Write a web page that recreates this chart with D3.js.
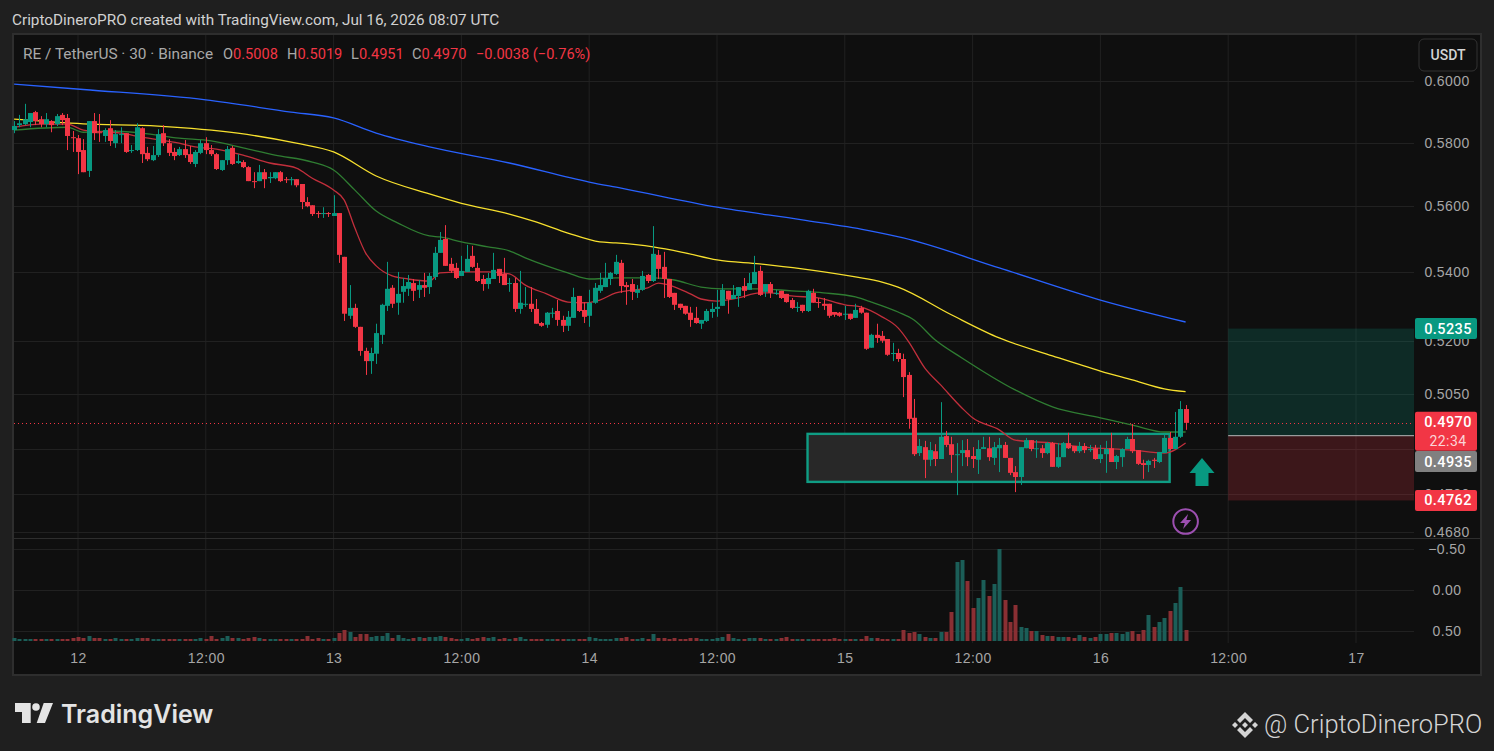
<!DOCTYPE html>
<html>
<head>
<meta charset="utf-8">
<style>
  html, body { margin: 0; padding: 0; background: #1f1f1f; }
  svg { display: block; font-family: Roboto, "Open Sans", sans-serif; }
  .axis path, .axis line { display: none; }
  .axis text { fill: #a6a6a6; font-size: 14px; letter-spacing: 0.4px; }
</style>
</head>
<body>
<div id="chart"></div>
<script src="https://cdn.jsdelivr.net/npm/d3@7"></script>
<script>
// candles, one row per 10 bars, 30 minute bars
const opens = [
  .5840,.5856,.5859,.5866,.5898,.5875,.5859,.5869,.5859,.5889,
  .5879,.5817,.5814,.5776,.5710,.5869,.5833,.5821,.5846,.5798,
  .5824,.5830,.5773,.5776,.5846,.5767,.5744,.5760,.5830,.5798,
  .5770,.5760,.5779,.5763,.5732,.5767,.5798,.5776,.5763,.5713,
  .5744,.5783,.5735,.5738,.5722,.5678,.5678,.5706,.5687,.5687,
  .5706,.5684,.5681,.5684,.5669,.5613,.5603,.5579,.5576,.5579,
  .5570,.5579,.5446,.5272,.5295,.5240,.5171,.5142,.5163,.5217,
  .5301,.5354,.5310,.5342,.5351,.5368,.5348,.5362,.5356,.5386,
  .5458,.5500,.5425,.5413,.5389,.5401,.5449,.5413,.5380,.5365,
  .5380,.5410,.5395,.5365,.5368,.5292,.5304,.5307,.5292,.5251,
  .5246,.5278,.5286,.5260,.5243,.5266,.5330,.5289,.5272,.5310,
  .5345,.5356,.5380,.5395,.5428,.5362,.5365,.5339,.5348,.5392,
  .5374,.5452,.5416,.5380,.5339,.5307,.5301,.5281,.5266,.5249,
  .5257,.5283,.5292,.5301,.5345,.5321,.5330,.5359,.5348,.5365,
  .5404,.5342,.5365,.5336,.5345,.5336,.5318,.5295,.5304,.5286,
  .5339,.5312,.5307,.5307,.5283,.5281,.5275,.5278,.5266,.5295,
  .5281,.5180,.5217,.5214,.5205,.5163,.5165,.5148,.5103,.4984,
  .4888,.4904,.4870,.4893,.4872,.4934,.4912,.4883,.4888,.4896,
  .4880,.4870,.4899,.4901,.4875,.4901,.4910,.4875,.4837,.4824,
  .4901,.4923,.4899,.4901,.4888,.4915,.4851,.4877,.4915,.4907,
  .4893,.4907,.4896,.4901,.4872,.4885,.4901,.4864,.4877,.4899,
  .4926,.4896,.4861,.4856,.4870,.4864,.4888,.4929,.4899,.4932,
  .5008
];
const highs = [
  .5869,.5889,.5925,.5895,.5902,.5885,.5895,.5872,.5892,.5895,
  .5892,.5837,.5824,.5811,.5869,.5895,.5892,.5846,.5872,.5840,
  .5849,.5830,.5792,.5862,.5849,.5786,.5789,.5843,.5856,.5811,
  .5783,.5786,.5808,.5789,.5776,.5808,.5817,.5792,.5767,.5744,
  .5789,.5789,.5763,.5744,.5725,.5706,.5729,.5716,.5706,.5706,
  .5710,.5691,.5691,.5684,.5669,.5628,.5603,.5585,.5597,.5582,
  .5634,.5579,.5446,.5362,.5307,.5240,.5180,.5180,.5249,.5307,
  .5431,.5362,.5401,.5383,.5392,.5380,.5377,.5398,.5398,.5476,
  .5521,.5542,.5443,.5428,.5449,.5482,.5479,.5428,.5392,.5398,
  .5458,.5410,.5443,.5383,.5383,.5404,.5356,.5356,.5321,.5254,
  .5283,.5295,.5318,.5272,.5286,.5354,.5330,.5312,.5348,.5368,
  .5398,.5428,.5401,.5452,.5437,.5371,.5380,.5362,.5404,.5395,
  .5539,.5467,.5461,.5380,.5339,.5307,.5301,.5298,.5298,.5260,
  .5292,.5310,.5348,.5365,.5345,.5362,.5356,.5383,.5398,.5449,
  .5419,.5365,.5371,.5348,.5345,.5336,.5324,.5312,.5304,.5348,
  .5351,.5324,.5324,.5307,.5283,.5283,.5301,.5278,.5307,.5301,
  .5281,.5220,.5249,.5228,.5205,.5194,.5177,.5163,.5111,.5036,
  .4926,.4921,.4918,.4912,.5027,.4948,.4932,.4915,.4923,.4926,
  .4904,.4923,.4932,.4932,.4918,.4929,.4918,.4875,.4853,.4904,
  .4929,.4923,.4923,.4910,.4918,.4918,.4915,.4918,.4943,.4907,
  .4918,.4915,.4910,.4910,.4910,.4921,.4943,.4883,.4901,.4932,
  .4967,.4896,.4870,.4870,.4875,.4891,.4940,.4945,.5000,.5030,
  .5019
];
const lows = [
  .5830,.5849,.5856,.5849,.5856,.5849,.5849,.5833,.5853,.5856,
  .5776,.5770,.5700,.5706,.5691,.5808,.5802,.5802,.5789,.5783,
  .5798,.5767,.5767,.5773,.5735,.5741,.5741,.5754,.5789,.5757,
  .5744,.5757,.5751,.5732,.5722,.5763,.5763,.5757,.5713,.5710,
  .5729,.5729,.5732,.5719,.5678,.5656,.5678,.5656,.5672,.5684,
  .5675,.5672,.5665,.5659,.5591,.5597,.5570,.5564,.5564,.5567,
  .5570,.5428,.5257,.5263,.5237,.5157,.5103,.5106,.5134,.5191,
  .5286,.5295,.5275,.5310,.5330,.5315,.5324,.5327,.5336,.5377,
  .5458,.5419,.5398,.5380,.5389,.5401,.5413,.5371,.5345,.5351,
  .5380,.5368,.5362,.5342,.5283,.5278,.5298,.5283,.5249,.5240,
  .5237,.5266,.5243,.5225,.5228,.5266,.5283,.5251,.5240,.5307,
  .5339,.5356,.5362,.5392,.5339,.5304,.5318,.5324,.5345,.5368,
  .5371,.5380,.5324,.5324,.5289,.5289,.5275,.5240,.5249,.5234,
  .5254,.5266,.5269,.5301,.5278,.5321,.5298,.5324,.5348,.5365,
  .5330,.5327,.5324,.5333,.5321,.5310,.5292,.5283,.5281,.5283,
  .5310,.5295,.5289,.5266,.5269,.5269,.5260,.5260,.5266,.5278,
  .5174,.5180,.5194,.5194,.5157,.5142,.5140,.5041,.4954,.4880,
  .4880,.4821,.4853,.4853,.4872,.4904,.4835,.4776,.4853,.4853,
  .4848,.4832,.4899,.4867,.4856,.4837,.4875,.4829,.4784,.4803,
  .4901,.4893,.4875,.4875,.4885,.4851,.4848,.4877,.4899,.4888,
  .4888,.4888,.4891,.4870,.4861,.4835,.4864,.4845,.4851,.4899,
  .4888,.4856,.4819,.4837,.4848,.4861,.4888,.4896,.4899,.4929,
  .4951
];
const closes = [
  .5853,.5862,.5875,.5895,.5869,.5859,.5875,.5856,.5885,.5872,
  .5821,.5814,.5770,.5706,.5869,.5830,.5830,.5840,.5805,.5827,
  .5827,.5770,.5776,.5849,.5763,.5747,.5760,.5827,.5798,.5767,
  .5757,.5779,.5760,.5738,.5770,.5798,.5776,.5763,.5716,.5744,
  .5779,.5732,.5741,.5722,.5678,.5675,.5706,.5684,.5691,.5706,
  .5678,.5681,.5684,.5665,.5613,.5600,.5576,.5576,.5579,.5576,
  .5579,.5452,.5278,.5295,.5240,.5171,.5142,.5165,.5222,.5304,
  .5351,.5307,.5336,.5359,.5371,.5345,.5362,.5354,.5389,.5458,
  .5497,.5419,.5404,.5383,.5404,.5440,.5416,.5374,.5365,.5383,
  .5407,.5389,.5362,.5368,.5292,.5310,.5307,.5292,.5249,.5243,
  .5281,.5281,.5260,.5243,.5269,.5327,.5286,.5269,.5310,.5354,
  .5362,.5383,.5398,.5431,.5359,.5356,.5342,.5348,.5389,.5374,
  .5455,.5410,.5380,.5327,.5304,.5295,.5278,.5260,.5251,.5260,
  .5286,.5292,.5298,.5348,.5321,.5333,.5356,.5345,.5368,.5401,
  .5333,.5365,.5339,.5339,.5324,.5312,.5295,.5298,.5286,.5345,
  .5310,.5310,.5301,.5272,.5275,.5272,.5278,.5263,.5289,.5281,
  .5177,.5217,.5208,.5200,.5160,.5165,.5148,.5097,.4981,.4885,
  .4907,.4870,.4896,.4872,.4932,.4910,.4883,.4885,.4896,.4877,
  .4872,.4899,.4904,.4877,.4904,.4910,.4875,.4835,.4824,.4904,
  .4923,.4899,.4901,.4888,.4915,.4851,.4877,.4915,.4901,.4893,
  .4907,.4896,.4899,.4872,.4885,.4899,.4864,.4880,.4899,.4926,
  .4893,.4859,.4856,.4867,.4867,.4891,.4929,.4899,.4932,.5008,
  .4970
];
const volumes = [
  3,2,2,2,2,2,2,2,2,2,
  2,3,4,3,5,3,3,2,2,3,
  2,2,2,3,3,3,2,2,2,2,
  2,2,2,2,2,3,2,5,2,3,
  5,3,3,2,3,4,3,2,2,2,
  2,2,2,2,2,5,2,3,2,2,
  3,8,11,9,4,7,7,4,5,5,
  8,3,6,3,2,3,4,3,4,4,
  5,4,3,2,2,3,2,3,4,3,
  4,2,3,2,3,4,2,2,2,2,
  2,2,2,2,2,2,2,2,4,3,
  2,2,2,3,3,4,2,2,3,2,
  7,3,3,2,3,2,2,3,3,2,
  2,2,3,4,7,3,2,2,3,3,
  3,2,2,2,3,4,2,2,2,2,
  2,2,2,2,3,2,2,2,2,2,
  5,3,3,2,2,2,2,11,8,9,
  7,4,3,3,9,9,29,79,81,60,
  33,43,61,45,57,92,41,19,36,14,
  13,10,10,6,5,5,4,4,4,3,
  6,4,3,4,7,7,8,8,7,9,
  10,7,11,26,14,19,23,30,38,54,
  11
];

// moving averages, read at the bars where the line bends
const blueBars = [0,13,36,52,60,68,78,93,108,114,132,148,160,167,185,204,220];
const blueValues = [.5990,.5972,.5938,.5898,.5879,.5830,.5786,.5735,.5675,.5656,.5597,.5558,.5527,.5503,.5413,.5318,.5254];
const yellowBars = [0,13,27,42,53,60,68,78,84,93,98,104,110,113,120,126,132,140,148,158,163,166,176,185,195,204,210,216,220];
const yellowValues = [.5875,.5860,.5853,.5830,.5798,.5770,.5694,.5638,.5609,.5576,.5552,.5518,.5491,.5488,.5476,.5458,.5437,.5425,.5410,.5386,.5371,.5356,.5275,.5208,.5157,.5114,.5089,.5064,.5056];
const greenBars = [0,10,13,18,24,31,37,43,49,56,60,64,68,72,78,80,84,89,93,96,100,104,108,113,120,124,129,133,140,146,152,158,161,166,169,173,178,188,195,204,210,216,220];
const greenValues = [.5840,.5849,.5833,.5837,.5830,.5814,.5805,.5783,.5760,.5738,.5713,.5650,.5585,.5549,.5509,.5506,.5491,.5476,.5464,.5443,.5419,.5398,.5380,.5383,.5383,.5377,.5356,.5351,.5351,.5345,.5339,.5327,.5312,.5283,.5260,.5202,.5151,.5061,.5014,.4984,.4964,.4945,.4945];
const redBars = [0,5,10,13,18,20,24,31,34,38,43,48,53,56,60,62,64,66,68,71,74,78,80,85,89,93,96,100,104,107,110,113,115,119,121,123,127,129,132,136,140,142,146,151,156,159,163,166,168,171,174,178,180,185,188,195,201,210,216,220];
const redValues = [.5849,.5859,.5859,.5840,.5833,.5830,.5817,.5798,.5786,.5779,.5760,.5735,.5719,.5687,.5650,.5619,.5533,.5458,.5419,.5389,.5380,.5374,.5398,.5401,.5401,.5395,.5362,.5336,.5312,.5310,.5318,.5339,.5345,.5354,.5368,.5362,.5336,.5321,.5315,.5324,.5339,.5339,.5330,.5324,.5304,.5298,.5269,.5237,.5197,.5123,.5075,.5011,.4984,.4951,.4923,.4915,.4904,.4896,.4888,.4915];

// axes
const priceGrid = [.6, .58, .56, .54, .52, .505, .49, .478, .468];
const priceTicks = [.6, .58, .56, .54, .52, .505, .478, .468];
const indicatorTicks = [-0.5, 0, 0.5];
const timeTicks = [12, 36, 60, 84, 108, 132, 156, 180, 204, 228, 252];
const timeLabels = ["12", "12:00", "13", "12:00", "14", "12:00", "15", "12:00", "16", "12:00", "17"];

// long position drawing and the range box
const targetPrice = 0.5235, entryPrice = 0.4935, stopPrice = 0.4762, lastPrice = 0.4970;
const positionStart = 228, boxStart = 149, boxEnd = 217, boxTop = 0.4940, boxBottom = 0.4811;

const up = "#089981", down = "#f23645";
const upVol = "#1b5e58", downVol = "#8a2f33";
const grid = "#212121";

const drawChart = () => {
    const width = 1494, height = 751;
    const plotRight = 1414, axisCenter = 1447;

    const svg = d3.select("#chart").append("svg")
        .attr("width", width)
        .attr("height", height);

    const x = d3.scaleLinear().domain([0, 220]).range([14.1, 1185.6]);
    const y = d3.scaleLog().domain([0.6, 0.468]).range([81, 532]);
    const v = d3.scaleLinear().domain([0, 92]).range([641, 549]);
    const vAxisScale = d3.scaleLinear().domain([-0.5, 0.5]).range([549, 631]);

    // frame
    svg.append("rect").attr("width", width).attr("height", height).attr("fill", "#1f1f1f");
    svg.append("rect")
        .attr("x", 13).attr("y", 34).attr("width", 1468).attr("height", 641)
        .attr("fill", "#0f0f0f").attr("stroke", "#2e2e2e").attr("stroke-width", 2);

    // gridlines
    svg.append("g").selectAll("line").data(timeTicks).join("line")
        .attr("x1", d => x(d)).attr("x2", d => x(d))
        .attr("y1", 35).attr("y2", 643)
        .attr("stroke", grid);
    svg.append("g").selectAll("line").data(priceGrid).join("line")
        .attr("x1", 14).attr("x2", plotRight)
        .attr("y1", d => Math.round(y(d)) + 0.5).attr("y2", d => Math.round(y(d)) + 0.5)
        .attr("stroke", grid);
    svg.append("g").selectAll("line").data(indicatorTicks).join("line")
        .attr("x1", 14).attr("x2", plotRight)
        .attr("y1", d => Math.round(vAxisScale(d)) + 0.5).attr("y2", d => Math.round(vAxisScale(d)) + 0.5)
        .attr("stroke", grid);

    // pane separator
    svg.append("line")
        .attr("x1", 14).attr("x2", 1480).attr("y1", 538.5).attr("y2", 538.5)
        .attr("stroke", "#2e2e2e");

    // position zones
    svg.append("rect")
        .attr("x", x(positionStart)).attr("width", plotRight - x(positionStart))
        .attr("y", y(targetPrice)).attr("height", y(entryPrice) - y(targetPrice))
        .attr("fill", up).attr("opacity", 0.2);
    svg.append("rect")
        .attr("x", x(positionStart)).attr("width", plotRight - x(positionStart))
        .attr("y", y(entryPrice)).attr("height", y(stopPrice) - y(entryPrice))
        .attr("fill", down).attr("opacity", 0.2);
    svg.append("line")
        .attr("x1", x(positionStart)).attr("x2", plotRight)
        .attr("y1", y(entryPrice)).attr("y2", y(entryPrice))
        .attr("stroke", "#b8b8b8").attr("stroke-width", 1);

    // last price line
    svg.append("line")
        .attr("x1", 14).attr("x2", plotRight)
        .attr("y1", Math.round(y(lastPrice)) + 0.5).attr("y2", Math.round(y(lastPrice)) + 0.5)
        .attr("stroke", down).attr("stroke-dasharray", "1 3");

    // range box
    svg.append("rect")
        .attr("x", x(boxStart)).attr("width", x(boxEnd) - x(boxStart))
        .attr("y", y(boxTop)).attr("height", y(boxBottom) - y(boxTop))
        .attr("fill", "#282828").attr("stroke", "#0f9d84").attr("stroke-width", 2.4);

    // moving averages
    const line = d3.line()
        .x(d => x(d[0]))
        .y(d => y(d[1]))
        .curve(d3.curveMonotoneX);
    const averages = [
        { bars: blueBars, values: blueValues, color: "#2962ff" },
        { bars: yellowBars, values: yellowValues, color: "#f7e02e" },
        { bars: greenBars, values: greenValues, color: "#2f7d32" },
        { bars: redBars, values: redValues, color: "#c22f3c" }
    ];
    averages.forEach(a => {
        svg.append("path")
            .attr("d", line(d3.zip(a.bars, a.values)))
            .attr("fill", "none")
            .attr("stroke", a.color)
            .attr("stroke-width", 1.3);
    });

    // candles
    const bars = opens.map((o, i) => ({ i, o, h: highs[i], l: lows[i], c: closes[i], vol: volumes[i] }));
    const candles = svg.append("g").selectAll("g").data(bars).join("g");
    candles.append("line")
        .attr("x1", d => Math.round(x(d.i)) + 0.5).attr("x2", d => Math.round(x(d.i)) + 0.5)
        .attr("y1", d => y(d.h)).attr("y2", d => y(d.l))
        .attr("stroke", d => d.c >= d.o ? up : down);
    candles.append("rect")
        .attr("x", d => Math.round(x(d.i)) - 2)
        .attr("width", 5)
        .attr("y", d => y(Math.max(d.o, d.c)))
        .attr("height", d => Math.max(1, Math.abs(y(d.o) - y(d.c))))
        .attr("fill", d => d.c >= d.o ? up : down);

    // volume
    svg.append("g").selectAll("rect").data(bars).join("rect")
        .attr("x", d => Math.round(x(d.i)) - 1.5)
        .attr("width", 4)
        .attr("y", d => v(d.vol))
        .attr("height", d => v(0) - v(d.vol))
        .attr("fill", d => d.c >= d.o ? upVol : downVol);

    // axes
    const priceAxis = svg.append("g").attr("class", "axis")
        .attr("transform", `translate(${axisCenter},0)`)
        .call(d3.axisRight(y).tickValues(priceTicks).tickFormat(d3.format(".4f")).tickSize(0));
    priceAxis.selectAll("text").attr("x", 0).attr("text-anchor", "middle");

    const indicatorAxis = svg.append("g").attr("class", "axis")
        .attr("transform", `translate(${axisCenter},0)`)
        .call(d3.axisRight(vAxisScale).tickValues(indicatorTicks)
            .tickFormat(d => d3.format(".2f")(d)).tickSize(0));
    indicatorAxis.selectAll("text").attr("x", 0).attr("text-anchor", "middle");

    const timeAxis = svg.append("g").attr("class", "axis")
        .attr("transform", "translate(0,653)")
        .call(d3.axisBottom(x).tickValues(timeTicks)
            .tickFormat((d, i) => timeLabels[i]).tickSize(0));
    timeAxis.selectAll("text").attr("y", 0).attr("dy", "0.71em");

    // price tags on the scale
    const tag = (text, top, bottom, fill) => {
        svg.append("rect")
            .attr("x", 1415).attr("y", top)
            .attr("width", 62).attr("height", bottom - top)
            .attr("rx", 2).attr("fill", fill);
        svg.append("text")
            .attr("x", axisCenter + 1).attr("y", top + 15.5)
            .attr("text-anchor", "middle")
            .attr("font-size", 14.5).attr("font-weight", 500)
            .attr("letter-spacing", "0.4px")
            .attr("fill", "#fff")
            .text(text);
    };
    tag(d3.format(".4f")(targetPrice), y(targetPrice) - 10.5, y(targetPrice) + 10.5, up);
    tag(d3.format(".4f")(lastPrice), y(lastPrice) - 11, y(lastPrice) + 28, down);
    svg.append("text")
        .attr("x", axisCenter + 1).attr("y", y(lastPrice) + 23)
        .attr("text-anchor", "middle")
        .attr("font-size", 14).attr("letter-spacing", "0.4px")
        .attr("fill", "#fbd5d8")
        .text("22:34");
    tag(d3.format(".4f")(entryPrice), 451, 472, "#808080");
    tag(d3.format(".4f")(stopPrice), y(stopPrice) - 10.5, y(stopPrice) + 10.5, down);

    // currency button
    svg.append("rect")
        .attr("x", 1419).attr("y", 39).attr("width", 58).attr("height", 32).attr("rx", 5)
        .attr("fill", "#0f0f0f").attr("stroke", "#333");
    svg.append("text")
        .attr("x", 1448).attr("y", 60)
        .attr("text-anchor", "middle").attr("font-size", 14).attr("font-weight", 500)
        .attr("fill", "#d4d4d4")
        .text("USDT");

    // buy arrow
    const ax = 1202, ay = 458;
    svg.append("path")
        .attr("transform", `translate(${ax},${ay})`)
        .attr("d", "M0 0 L12.5 15 H6.5 V28 H-6.5 V15 H-12.5 Z")
        .attr("fill", up);

    // lightning badge
    const badge = svg.append("g").attr("transform", "translate(1185.6,521.5)");
    badge.append("circle").attr("r", 12.3)
        .attr("fill", "none").attr("stroke", "#9c4fb0").attr("stroke-width", 2);
    badge.append("path")
        .attr("d", "M2.5 -7.5 L-5.5 1.5 H-0.8 L-2.5 7.5 L5.5 -1.5 H0.8 Z")
        .attr("fill", "#9c4fb0");

    // header
    svg.append("text")
        .attr("x", 12).attr("y", 25)
        .attr("font-size", 15.3).attr("fill", "#d1d1d1")
        .text("CriptoDineroPRO created with TradingView.com, Jul 16, 2026 08:07 UTC");

    const legend = svg.append("text")
        .attr("y", 59).attr("font-size", 14.6).attr("fill", "#a9a9a9");
    legend.append("tspan").attr("x", 23).attr("font-size", 15.4).text("RE / TetherUS · 30 · Binance");
    const ohlc = [
        ["O", "0.5008", 223],
        ["H", "0.5019", 287],
        ["L", "0.4951", 351],
        ["C", "0.4970", 412]
    ];
    ohlc.forEach(d => {
        legend.append("tspan").attr("x", d[2]).text(d[0]);
        legend.append("tspan").attr("fill", down).text(d[1]);
    });
    legend.append("tspan").attr("x", 476).attr("fill", down).text("−0.0038 (−0.76%)");

    // footer
    const logo = svg.append("g").attr("fill", "#e4e4e4");
    logo.append("path").attr("d", "M15 703 H30.7 V723 H22 V712 H15 Z");
    logo.append("circle").attr("cx", 36).attr("cy", 707).attr("r", 3.8);
    logo.append("path").attr("d", "M53 703 H43.7 L36.7 723 H45 Z");
    svg.append("text")
        .attr("x", 61).attr("y", 723)
        .attr("font-family", "Inter, Lato, sans-serif")
        .attr("font-size", 25).attr("font-weight", 600)
        .attr("fill", "#e4e4e4")
        .text("TradingView");

    const bn = svg.append("g").attr("transform", "translate(1245,725)").attr("fill", "#d4d4d4");
    bn.append("path").attr("d", "M0 -13 L8 -5 L5 -2 L0 -7 L-5 -2 L-8 -5 Z");
    bn.append("path").attr("d", "M0 13 L8 5 L5 2 L0 7 L-5 2 L-8 5 Z");
    bn.append("path").attr("d", "M0 -3 L3 0 L0 3 L-3 0 Z");
    bn.append("path").attr("d", "M-10 -3 L-7 0 L-10 3 L-13 0 Z");
    bn.append("path").attr("d", "M10 -3 L13 0 L10 3 L7 0 Z");
    svg.append("text")
        .attr("x", 1264).attr("y", 733)
        .attr("font-size", 25.5).attr("font-weight", 300).attr("fill", "#d4d4d4")
        .text("@ CriptoDineroPRO");
};

drawChart();
</script>
</body>
</html>
